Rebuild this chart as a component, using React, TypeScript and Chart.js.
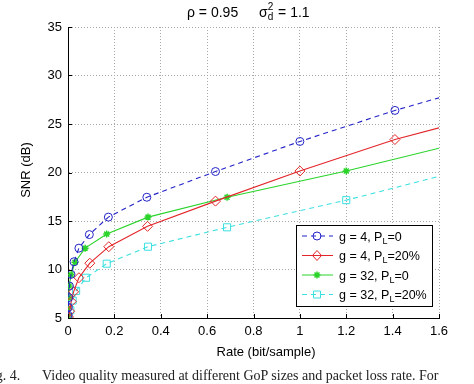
import React, { useEffect, useRef } from 'react';
import { Chart, registerables } from 'chart.js';

Chart.register(...registerables);

const FONT = '"Liberation Sans", Arial, Helvetica, sans-serif';

// Axis ticks
const xTicks = [0, 0.2, 0.4, 0.6, 0.8, 1, 1.2, 1.4, 1.6];
const yTicks = [5, 10, 15, 20, 25, 30, 35];

// g = 4, P_L = 0
const rateG4P0 = [0, 0.0015, 0.003, 0.006, 0.013, 0.026, 0.047, 0.092, 0.174, 0.34, 0.636, 1.0, 1.41, 1.6];
const snrG4P0 = [5.3, 6.1, 7.1, 8.3, 9.5, 10.8, 12.2, 13.6, 15.4, 17.45, 20.1, 23.2, 26.4, 27.7];

// g = 4, P_L = 20%
const rateG4P20 = [0.002, 0.007, 0.014, 0.024, 0.047, 0.094, 0.176, 0.343, 0.636, 1.0, 1.41, 1.6];
const snrG4P20 = [5.1, 5.7, 6.7, 7.7, 9.15, 10.65, 12.35, 14.45, 17.05, 20.15, 23.4, 24.6];

// g = 32, P_L = 0
const rateG32P0 = [0, 0.001, 0.002, 0.005, 0.013, 0.03, 0.074, 0.167, 0.345, 0.686, 1.2, 1.6];
const snrG32P0 = [5.2, 6.0, 7.1, 8.3, 9.45, 10.75, 12.2, 13.65, 15.4, 17.45, 20.15, 22.5];

// g = 32, P_L = 20%
const rateG32P20 = [0.003, 0.01, 0.02, 0.035, 0.078, 0.167, 0.345, 0.686, 1.2, 1.6];
const snrG32P20 = [5.1, 5.8, 6.8, 7.8, 9.15, 10.6, 12.35, 14.35, 17.15, 19.6];

const legendPrefix = ['g = 4, P', 'g = 4, P', 'g = 32, P', 'g = 32, P'];
const legendSub = ['L', 'L', 'L', 'L'];
const legendSuffix = ['=0', '=20%', '=0', '=20%'];

const COLORS = ['#2323c8', '#e3262a', '#2ad42a', '#3ce0e0'];
const MARKERS = ['circle', 'diamond', 'star', 'square'];
const DASHES: number[][] = [[5, 4], [], [], [5, 4]];

const toPts = (xs: number[], ys: number[]) => xs.map((x, i) => ({ x, y: ys[i] }));
const radii = (n: number, r: number) => Array.from({ length: n }, (_, i) => (i === n - 1 ? 0 : r));

function drawMarker(ctx: CanvasRenderingContext2D, style: string, x: number, y: number, color: string) {
  ctx.save();
  ctx.setLineDash([]);
  ctx.strokeStyle = color;
  ctx.lineWidth = 1;
  ctx.beginPath();
  if (style === 'circle') {
    ctx.arc(x, y, 4, 0, Math.PI * 2);
  } else if (style === 'diamond') {
    ctx.moveTo(x, y - 5);
    ctx.lineTo(x + 4.5, y);
    ctx.lineTo(x, y + 5);
    ctx.lineTo(x - 4.5, y);
    ctx.closePath();
  } else if (style === 'star') {
    ctx.lineWidth = 1.5;
    const r = 3.5;
    for (let k = 0; k < 4; k++) {
      const a = (k * Math.PI) / 4;
      ctx.moveTo(x - r * Math.cos(a), y - r * Math.sin(a));
      ctx.lineTo(x + r * Math.cos(a), y + r * Math.sin(a));
    }
  } else {
    ctx.rect(x - 3.5, y - 3.5, 7, 7);
  }
  ctx.stroke();
  ctx.restore();
}

const overlay = {
  id: 'overlay',
  afterDraw(chart: any) {
    const ctx: CanvasRenderingContext2D = chart.ctx;
    const { left, bottom } = chart.chartArea;
    const xs = chart.scales.x;
    const ys = chart.scales.y;
    ctx.save();

    // inward tick marks
    ctx.strokeStyle = '#000';
    ctx.lineWidth = 1;
    ctx.setLineDash([]);
    ctx.beginPath();
    xTicks.forEach((v) => {
      const px = Math.round(xs.getPixelForValue(v)) + 0.5;
      ctx.moveTo(px, bottom);
      ctx.lineTo(px, bottom - 4);
    });
    yTicks.forEach((v) => {
      const py = Math.round(ys.getPixelForValue(v)) + 0.5;
      ctx.moveTo(left, py);
      ctx.lineTo(left + 4, py);
    });
    ctx.stroke();

    // main title: rho = 0.95   sigma_d^2 = 1.1
    ctx.fillStyle = '#000';
    ctx.textBaseline = 'alphabetic';
    ctx.textAlign = 'left';
    ctx.font = `14px ${FONT}`;
    const t1 = 'ρ = 0.95';
    let tx = 187;
    const ty = 17;
    ctx.fillText(t1, tx, ty);
    tx = 259;
    ctx.fillText('σ', tx, ty);
    tx += ctx.measureText('σ').width;
    ctx.font = `10px ${FONT}`;
    ctx.fillText('d', tx, ty + 3);
    ctx.fillText('2', tx, ty - 7);
    tx += ctx.measureText('d').width + 1;
    ctx.font = `14px ${FONT}`;
    ctx.fillText(' = 1.1', tx, ty);

    // axis titles
    ctx.font = `13px ${FONT}`;
    ctx.textAlign = 'center';
    ctx.textBaseline = 'middle';
    ctx.fillText('Rate (bit/sample)', 266, 352);
    ctx.save();
    ctx.translate(26, 170);
    ctx.rotate(-Math.PI / 2);
    ctx.fillText('SNR (dB)', 0, 0);
    ctx.restore();

    // legend
    const bx = 296, by = 225, bw = 136, bh = 81;
    ctx.fillStyle = '#fff';
    ctx.fillRect(bx, by, bw, bh);
    ctx.strokeStyle = '#000';
    ctx.lineWidth = 1;
    ctx.strokeRect(bx + 0.5, by + 0.5, bw, bh);
    const rows = [236, 255.5, 275, 294.5];
    rows.forEach((ry, i) => {
      ctx.save();
      ctx.strokeStyle = COLORS[i];
      ctx.lineWidth = 1;
      ctx.setLineDash(DASHES[i]);
      ctx.beginPath();
      ctx.moveTo(302, ry);
      ctx.lineTo(333, ry);
      ctx.stroke();
      ctx.restore();
      drawMarker(ctx, MARKERS[i], 317, ry, COLORS[i]);
      ctx.fillStyle = '#000';
      ctx.textAlign = 'left';
      ctx.textBaseline = 'alphabetic';
      ctx.font = `12.5px ${FONT}`;
      let lx = 339;
      const base = ry + 4.5;
      ctx.fillText(legendPrefix[i], lx, base);
      lx += ctx.measureText(legendPrefix[i]).width;
      ctx.font = `9px ${FONT}`;
      ctx.fillText(legendSub[i], lx, base + 3);
      lx += ctx.measureText(legendSub[i]).width;
      ctx.font = `12.5px ${FONT}`;
      ctx.fillText(legendSuffix[i], lx, base);
    });

    ctx.restore();
  },
};

export default function App() {
  const ref = useRef<HTMLCanvasElement | null>(null);

  useEffect(() => {
    if (!ref.current) return;
    const series = [
      toPts(rateG4P0, snrG4P0),
      toPts(rateG4P20, snrG4P20),
      toPts(rateG32P0, snrG32P0),
      toPts(rateG32P20, snrG32P20),
    ];
    const styles = ['circle', 'rectRot', 'star', 'rect'];
    const sizes = [4, 5, 3.5, 5];
    const chart = new Chart(ref.current, {
      type: 'scatter',
      data: {
        datasets: series.map((data, i) => ({
          data,
          showLine: true,
          borderColor: COLORS[i],
          borderWidth: 1.1,
          borderDash: DASHES[i],
          pointStyle: styles[i] as any,
          pointRadius: radii(data.length, sizes[i]),
          pointBorderColor: COLORS[i],
          pointBackgroundColor: 'rgba(0,0,0,0)',
          pointBorderWidth: i === 2 ? 1.5 : 1,
          tension: 0,
        })),
      },
      options: {
        animation: false,
        responsive: false,
        maintainAspectRatio: false,
        devicePixelRatio: 1,
        layout: { padding: { left: 0, top: 27, right: 35, bottom: 0 } },
        plugins: {
          legend: { display: false },
          title: { display: false },
          tooltip: { enabled: false },
        },
        scales: {
          x: {
            type: 'linear',
            min: 0,
            max: 1.6,
            afterFit: (s: any) => { s.height = 66; },
            afterBuildTicks: (s: any) => { s.ticks = xTicks.map((v) => ({ value: v })); },
            ticks: {
              color: '#000',
              padding: 6,
              font: { family: FONT, size: 13 },
              maxRotation: 0,
              callback: (v: any) => String(Number(v)),
            },
            grid: { color: '#a8a8a8', lineWidth: 1, drawTicks: false },
            border: { display: true, color: '#000', width: 1, dash: [1, 2] },
          },
          y: {
            type: 'linear',
            min: 5,
            max: 35,
            afterFit: (s: any) => { s.width = 68; },
            afterBuildTicks: (s: any) => { s.ticks = yTicks.map((v) => ({ value: v })); },
            ticks: {
              color: '#000',
              padding: 6,
              font: { family: FONT, size: 13 },
              callback: (v: any) => String(Number(v)),
            },
            grid: { color: '#a8a8a8', lineWidth: 1, drawTicks: false },
            border: { display: true, color: '#000', width: 1, dash: [1, 2] },
          },
        },
      },
      plugins: [overlay],
    });
    return () => chart.destroy();
  }, []);

  return (
    <div
      style={{
        position: 'fixed',
        left: 0,
        top: 0,
        width: 474,
        height: 384,
        background: '#fff',
        overflow: 'hidden',
      }}
    >
      <canvas ref={ref} width={474} height={384} style={{ display: 'block', width: 474, height: 384 }} />
      <div
        style={{
          position: 'absolute',
          top: 369,
          left: 0,
          width: 474,
          height: 15,
          overflow: 'hidden',
          whiteSpace: 'nowrap',
          fontFamily: '"Liberation Serif", "Times New Roman", serif',
          fontSize: 14,
          lineHeight: '14px',
          color: '#222',
        }}
      >
        <span style={{ position: 'absolute', left: -16, top: 0 }}>Fig. 4.</span>
        <span style={{ position: 'absolute', left: 42, top: 0 }}>
          Video quality measured at different GoP sizes and packet loss rate. For
        </span>
      </div>
    </div>
  );
}
